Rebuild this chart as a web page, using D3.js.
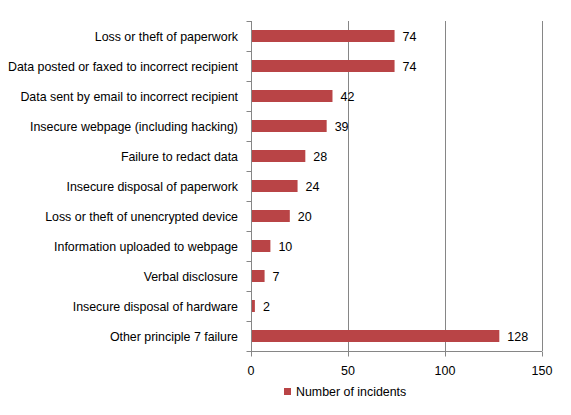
<!DOCTYPE html>
<html>
<head>
<meta charset="utf-8">
<script src="https://cdn.jsdelivr.net/npm/d3@7"></script>
<style>
body { margin: 0; background: #fff; }
text { font-family: "Liberation Sans", Arial, sans-serif; fill: #000; }
</style>
</head>
<body>
<svg width="571" height="415"></svg>
<script>
var categories = [
    "Loss or theft of paperwork",
    "Data posted or faxed to incorrect recipient",
    "Data sent by email to incorrect recipient",
    "Insecure webpage (including hacking)",
    "Failure to redact data",
    "Insecure disposal of paperwork",
    "Loss or theft of unencrypted device",
    "Information uploaded to webpage",
    "Verbal disclosure",
    "Insecure disposal of hardware",
    "Other principle 7 failure"
];
var incidents = [74, 74, 42, 39, 28, 24, 20, 10, 7, 2, 128];
var xTicks = [0, 50, 100, 150];
var seriesName = "Number of incidents";

var svg = d3.select("svg");
var barColor = "#b94446";
var gridColor = "#868686";

var x = d3.scaleLinear().domain([0, 150]).range([251, 542]);
var y = d3.scaleBand().domain(categories).range([21, 351]).paddingInner(0.6).paddingOuter(0.3);

// vertical gridlines
svg.selectAll("line.grid").data(xTicks.slice(1)).enter()
    .append("line")
    .attr("class", "grid")
    .attr("x1", function (d) { return Math.round(x(d)) + 0.5; })
    .attr("x2", function (d) { return Math.round(x(d)) + 0.5; })
    .attr("y1", 21)
    .attr("y2", 351)
    .attr("stroke", gridColor);

// bars
svg.selectAll("rect.bar").data(incidents).enter()
    .append("rect")
    .attr("class", "bar")
    .attr("x", x(0))
    .attr("y", function (d, i) { return y(categories[i]); })
    .attr("width", function (d) { return x(d) - x(0); })
    .attr("height", y.bandwidth())
    .attr("fill", barColor);

// value labels
svg.selectAll("text.val").data(incidents).enter()
    .append("text")
    .attr("class", "val")
    .text(function (d) { return d; })
    .attr("x", function (d) { return x(d) + 8; })
    .attr("y", function (d, i) { return y(categories[i]) + y.bandwidth() / 2 + 4.5; })
    .attr("font-size", "12.5px");

// y axis
var yAxis = svg.append("g")
    .attr("transform", "translate(" + (Math.round(x(0)) + 0.5) + ",0)");
yAxis.append("line")
    .attr("x1", 0).attr("x2", 0)
    .attr("y1", 21).attr("y2", 351)
    .attr("stroke", gridColor);
var bandTicks = d3.range(categories.length + 1).map(function (i) { return 21 + i * 30; });
yAxis.selectAll("line.tk").data(bandTicks).enter()
    .append("line")
    .attr("x1", -5).attr("x2", 0)
    .attr("y1", function (d) { return d + 0.5; })
    .attr("y2", function (d) { return d + 0.5; })
    .attr("stroke", gridColor);
svg.selectAll("text.cat").data(categories).enter()
    .append("text")
    .attr("class", "cat")
    .text(function (d) { return d; })
    .attr("x", 238)
    .attr("y", function (d) { return y(d) + y.bandwidth() / 2 + 4.5; })
    .attr("text-anchor", "end")
    .attr("font-size", "12.4px");

// x axis
var xAxis = svg.append("g")
    .attr("transform", "translate(0," + 351.5 + ")");
xAxis.append("line")
    .attr("x1", x(0)).attr("x2", x(150))
    .attr("stroke", gridColor);
xAxis.selectAll("line.tk").data(xTicks).enter()
    .append("line")
    .attr("x1", function (d) { return Math.round(x(d)) + 0.5; })
    .attr("x2", function (d) { return Math.round(x(d)) + 0.5; })
    .attr("y1", 0).attr("y2", 5)
    .attr("stroke", gridColor);
xAxis.selectAll("text").data(xTicks).enter()
    .append("text")
    .text(function (d) { return d; })
    .attr("x", function (d) { return x(d); })
    .attr("y", 23)
    .attr("text-anchor", "middle")
    .attr("font-size", "12.5px");

// legend
svg.append("rect")
    .attr("x", 284).attr("y", 388)
    .attr("width", 7).attr("height", 7)
    .attr("fill", barColor);
svg.append("text")
    .text(seriesName)
    .attr("x", 296)
    .attr("y", 396)
    .attr("font-size", "12.4px");
</script>
</body>
</html>
